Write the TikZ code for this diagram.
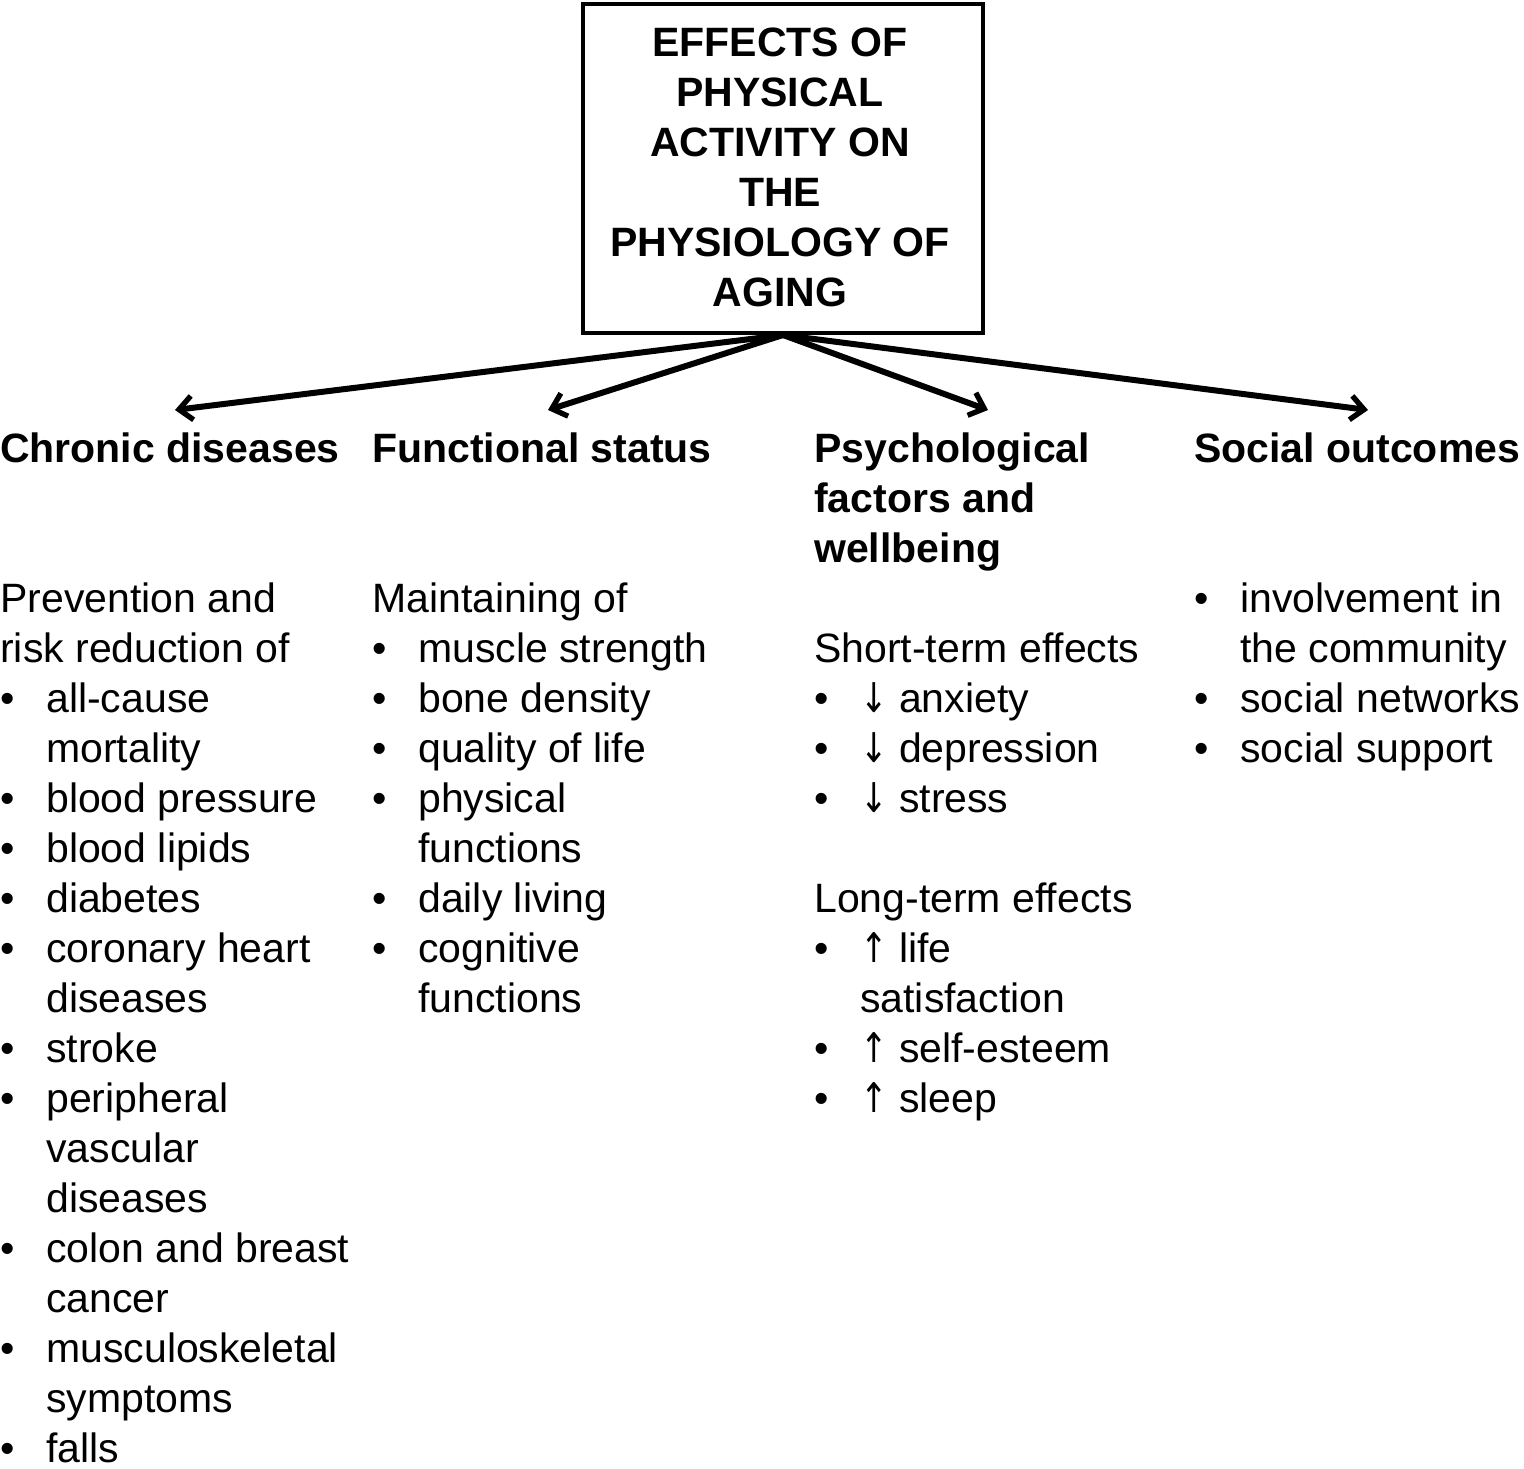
\documentclass[tikz,border=0pt]{standalone}
\usepackage{fontspec}
\usetikzlibrary{arrows.meta}
\setmainfont{Liberation Sans}
\newfontfamily\symfont{DejaVu Sans}
\begin{document}
\begin{tikzpicture}[x=0.75pt,y=-0.75pt,
  txt/.style={anchor=base west,inner sep=0pt,font=\fontsize{30.75}{37.5}\selectfont},
  hd/.style={txt,font=\fontsize{30.75}{37.5}\selectfont\bfseries},
  arr/.style={line width=4.5pt,-{Straight Barb[length=10pt,width=18pt,line width=4pt]}}]
\useasboundingbox (0,0) rectangle (1524,1468);
\newcommand\Ln[4]{\node[txt] (#1) at (#2,{462+50*#3}) {#4};}
\newcommand\Bl[4]{\node[txt] (#1b) at (#2,{462+50*#3}) {•};\node[txt] (#1) at (#2+46,{462+50*#3}) {#4};}
\node[draw,line width=3pt,minimum width=300pt,minimum height=246.75pt,anchor=north west,inner sep=0pt] (title) at (581,2) {};
\node[align=center,font=\fontsize{30.75}{37.5}\selectfont\bfseries,inner sep=0pt] (tt) at (780,167) {EFFECTS OF\\PHYSICAL\\ACTIVITY ON\\THE\\PHYSIOLOGY OF\\AGING};
\coordinate (a1) at (175,410);\coordinate (a2) at (548,410);\coordinate (a3) at (988,410);\coordinate (a4) at (1368,410);
\foreach \t in {a1,a2,a3,a4} \draw[arr] (title.south) -- (\t);
% column 1
\node[hd] (h1) at (0,462) {Chronic diseases};
\Ln{c1}{0}{3}{Prevention and}
\Ln{c2}{0}{4}{risk reduction of}
\Bl{c3}{0}{5}{all-cause}
\Ln{c4}{46}{6}{mortality}
\Bl{c5}{0}{7}{blood pressure}
\Bl{c6}{0}{8}{blood lipids}
\Bl{c7}{0}{9}{diabetes}
\Bl{c8}{0}{10}{coronary heart}
\Ln{c9}{46}{11}{diseases}
\Bl{c10}{0}{12}{stroke}
\Bl{c11}{0}{13}{peripheral}
\Ln{c12}{46}{14}{vascular}
\Ln{c13}{46}{15}{diseases}
\Bl{c14}{0}{16}{colon and breast}
\Ln{c15}{46}{17}{cancer}
\Bl{c16}{0}{18}{musculoskeletal}
\Ln{c17}{46}{19}{symptoms}
\Bl{c18}{0}{20}{falls}
% column 2
\node[hd] (h2) at (372,462) {Functional status};
\Ln{f1}{372}{3}{Maintaining of}
\Bl{f2}{372}{4}{muscle strength}
\Bl{f3}{372}{5}{bone density}
\Bl{f4}{372}{6}{quality of life}
\Bl{f5}{372}{7}{physical}
\Ln{f6}{418}{8}{functions}
\Bl{f7}{372}{9}{daily living}
\Bl{f8}{372}{10}{cognitive}
\Ln{f9}{418}{11}{functions}
% column 3
\node[hd] (h3a) at (814,462) {Psychological};
\node[hd] (h3b) at (814,512) {factors and};
\node[hd] (h3c) at (814,562) {wellbeing};
\Ln{p1}{814}{4}{Short-term effects}
\Bl{p2}{814}{5}{{\symfont\addfontfeature{FakeStretch=0.8}↓} anxiety}
\Bl{p3}{814}{6}{{\symfont\addfontfeature{FakeStretch=0.8}↓} depression}
\Bl{p4}{814}{7}{{\symfont\addfontfeature{FakeStretch=0.8}↓} stress}
\Ln{p5}{814}{9}{Long-term effects}
\Bl{p6}{814}{10}{{\symfont\addfontfeature{FakeStretch=0.8}↑} life}
\Ln{p7}{860}{11}{satisfaction}
\Bl{p8}{814}{12}{{\symfont\addfontfeature{FakeStretch=0.8}↑} self-esteem}
\Bl{p9}{814}{13}{{\symfont\addfontfeature{FakeStretch=0.8}↑} sleep}
% column 4
\node[hd] (h4) at (1194,462) {Social outcomes};
\Bl{s1}{1194}{3}{involvement in}
\Ln{s2}{1240}{4}{the community}
\Bl{s3}{1194}{5}{social networks}
\Bl{s4}{1194}{6}{social support}
\end{tikzpicture}
\end{document}
